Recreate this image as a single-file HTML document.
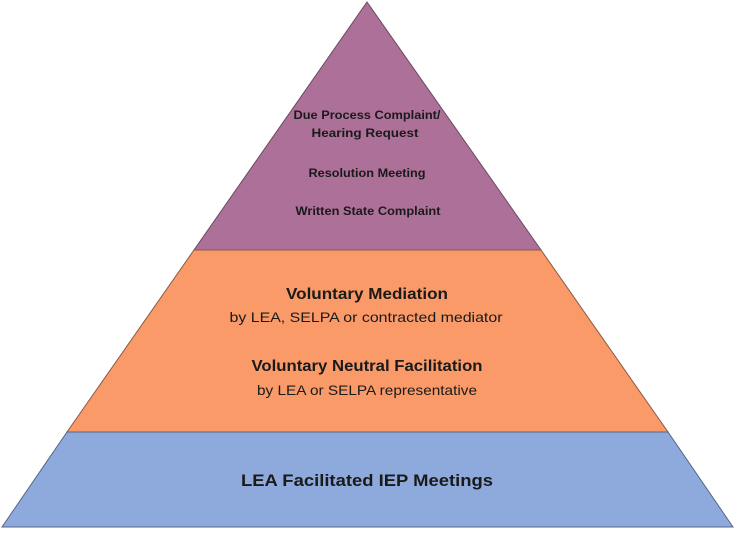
<!DOCTYPE html>
<html><head><style>
body{margin:0;background:#fff;}
svg text{font-family:"Liberation Sans",sans-serif;fill:#1a1a1a;}
</style></head><body>
<svg width="735" height="530" viewBox="0 0 735 530" xmlns="http://www.w3.org/2000/svg">
<polygon points="367,2 541,250 194,250" fill="#ad7099" stroke="#6a4a60" stroke-width="1"/>
<polygon points="194,250 541,250 668,432 67,432" fill="#f99a68" stroke="#8a5a45" stroke-width="1"/>
<polygon points="67,432 668,432 733,527 2,527" fill="#8eaadc" stroke="#55658a" stroke-width="1"/>
<g font-weight="bold" font-size="11.5" text-anchor="middle" lengthAdjust="spacingAndGlyphs">
<text x="367" y="119" textLength="147" lengthAdjust="spacingAndGlyphs">Due Process Complaint/</text>
<text x="365" y="137" textLength="107" lengthAdjust="spacingAndGlyphs">Hearing Request</text>
<text x="367" y="177" textLength="117" lengthAdjust="spacingAndGlyphs">Resolution Meeting</text>
<text x="368" y="215" textLength="145" lengthAdjust="spacingAndGlyphs">Written State Complaint</text>
</g>
<text x="367" y="299" font-size="16" font-weight="bold" text-anchor="middle" textLength="162" lengthAdjust="spacingAndGlyphs">Voluntary Mediation</text>
<text x="366" y="322" font-size="14" text-anchor="middle" textLength="273" lengthAdjust="spacingAndGlyphs">by LEA, SELPA or contracted mediator</text>
<text x="367" y="371" font-size="16" font-weight="bold" text-anchor="middle" textLength="231" lengthAdjust="spacingAndGlyphs">Voluntary Neutral Facilitation</text>
<text x="367" y="395" font-size="14" text-anchor="middle" textLength="220" lengthAdjust="spacingAndGlyphs">by LEA or SELPA representative</text>
<text x="367" y="486" font-size="17" font-weight="bold" text-anchor="middle" textLength="252" lengthAdjust="spacingAndGlyphs">LEA Facilitated IEP Meetings</text>
</svg>
</body></html>
